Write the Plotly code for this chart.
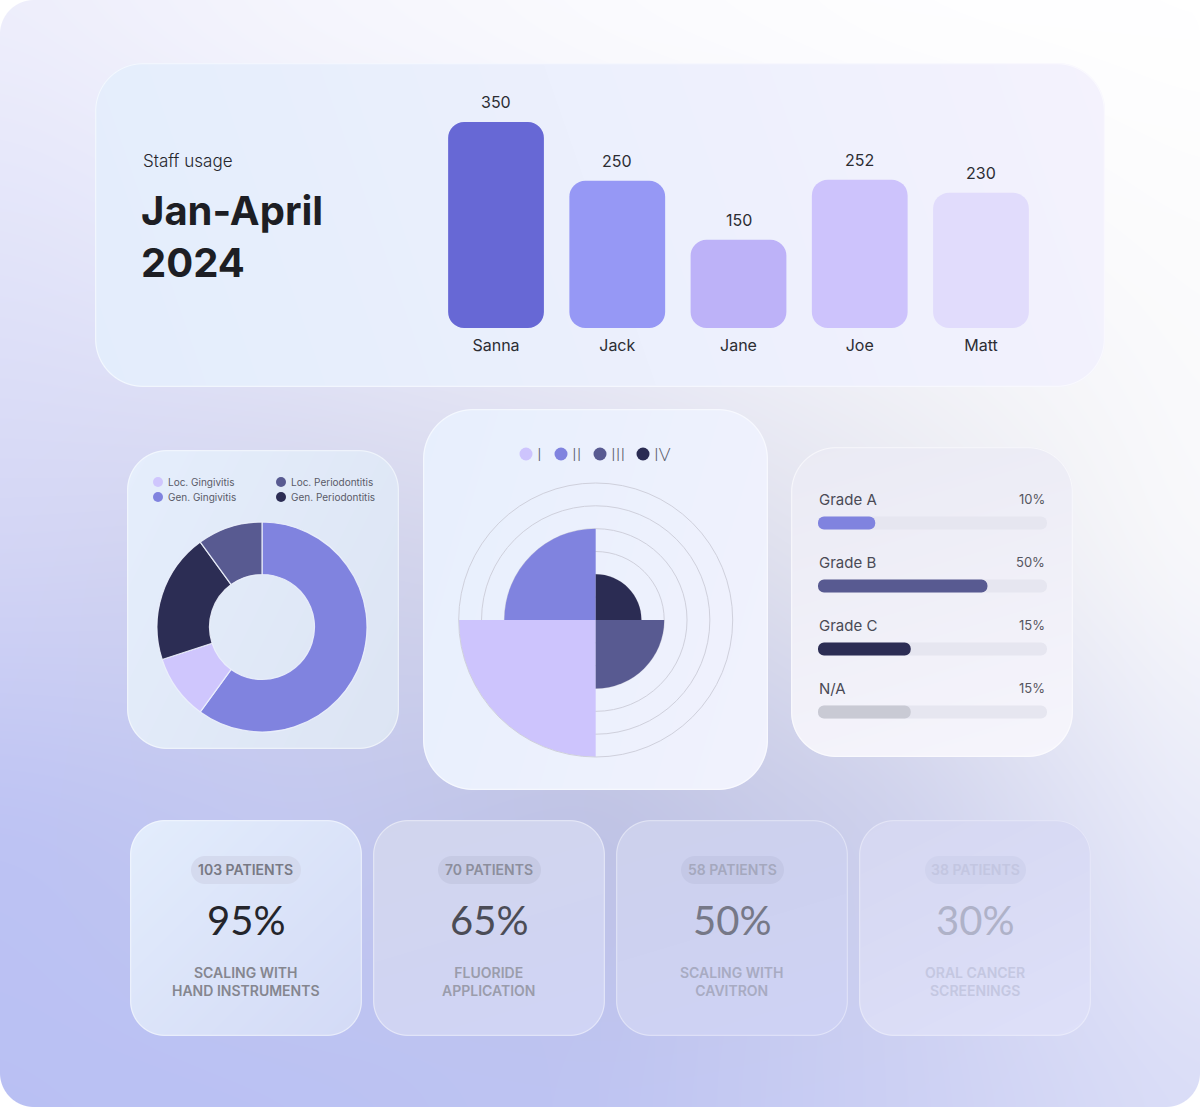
import base64
import struct
import zlib

import numpy as np
import plotly.graph_objects as go

W, H = 1200, 1107

# ---------------------------------------------------------------- data
staff_names = ["Sanna", "Jack", "Jane", "Joe", "Matt"]
staff_usage = [350, 250, 150, 252, 230]
staff_colors = ["#6768d5", "#9698f5", "#bdb2f8", "#cdc3fc", "#e1dcfc"]

donut_labels = ["Gen. Gingivitis", "Loc. Gingivitis", "Gen. Periodontitis", "Loc. Periodontitis"]
donut_values = [60, 10, 20, 10]
donut_colors = ["#8083df", "#cfc6fd", "#2c2d54", "#585a91"]
donut_legend_order = ["Loc. Gingivitis", "Gen. Gingivitis", "Loc. Periodontitis", "Gen. Periodontitis"]

stage_labels = ["I", "II", "III", "IV"]
stage_values = [6, 4, 3, 2]
stage_colors = ["#cdc4fd", "#8083df", "#585a91", "#2b2c53"]
stage_angle_order = ["IV", "III", "I", "II"]

grade_labels = ["Grade A", "Grade B", "Grade C", "N/A"]
grade_pct = [10, 50, 15, 15]          # printed percentages
grade_bar = [25, 74, 40.5, 40.5]      # drawn fill level (of 100)
grade_max = 100
grade_colors = ["#8083df", "#585a91", "#2c2d54", "#c9cad4"]

kpi_patients = [103, 70, 58, 38]
kpi_pct = [95, 65, 50, 30]
kpi_labels = ["SCALING WITH<br>HAND INSTRUMENTS", "FLUORIDE<br>APPLICATION",
              "SCALING WITH<br>CAVITRON", "ORAL CANCER<br>SCREENINGS"]
kpi_colors = [("#787984", "#24252b", "#85868f"),
              ("#8c8e9c", "#4b4c56", "#9a9cab"),
              ("#a5a8be", "#767887", "#a8abc2"),
              ("#c3c6e1", "#afb2c8", "#c4c7e1")]

# ---------------------------------------------------------------- decorative background (image)
Xp = (np.arange(W) + 0.5)[None, :]
Yp = (np.arange(H) + 0.5)[:, None]

gx = np.array([0, 300, 600, 900, 1200], float)
gy = np.array([0, 277, 553, 830, 1107], float)
grid = np.array([
    [(238, 238, 251), (246, 246, 253), (251, 251, 254), (254, 254, 255), (255, 255, 255)],
    [(224, 226, 249), (232, 233, 249), (240, 240, 250), (246, 246, 250), (251, 251, 252)],
    [(211, 213, 245), (208, 210, 236), (214, 215, 234), (230, 231, 240), (249, 249, 251)],
    [(188, 194, 243), (195, 200, 240), (189, 193, 227), (205, 208, 236), (234, 236, 250)],
    [(185, 192, 243), (186, 193, 243), (190, 196, 243), (204, 208, 244), (218, 221, 247)],
], float)
xs = np.arange(W) + 0.5
ys = np.arange(H) + 0.5
ix = np.clip(np.searchsorted(gx, xs) - 1, 0, len(gx) - 2)
iy = np.clip(np.searchsorted(gy, ys) - 1, 0, len(gy) - 2)
fx = ((xs - gx[ix]) / (gx[ix + 1] - gx[ix]))[None, :, None]
fy = ((ys - gy[iy]) / (gy[iy + 1] - gy[iy]))[:, None, None]
G00 = grid[iy[:, None], ix[None, :]]
G01 = grid[iy[:, None], ix[None, :] + 1]
G10 = grid[iy[:, None] + 1, ix[None, :]]
G11 = grid[iy[:, None] + 1, ix[None, :] + 1]
img = G00 * (1 - fx) * (1 - fy) + G01 * fx * (1 - fy) + G10 * (1 - fx) * fy + G11 * fx * fy


def box_blur(a, r, axis):
    pad = [(0, 0)] * a.ndim
    pad[axis] = (r + 1, r)
    p = np.pad(a, pad, mode="edge")
    c = np.cumsum(p, axis=axis)
    n = a.shape[axis]
    hi = np.take(c, np.arange(2 * r + 1, 2 * r + 1 + n), axis=axis)
    lo = np.take(c, np.arange(0, n), axis=axis)
    return (hi - lo) / (2 * r + 1)


for _ in range(2):
    img = box_blur(img, 50, 0)
    img = box_blur(img, 50, 1)


def sdf(x0, y0, x1, y1, r):
    cx, cy = (x0 + x1) / 2, (y0 + y1) / 2
    hx, hy = (x1 - x0) / 2, (y1 - y0) / 2
    qx = np.abs(Xp - cx) - (hx - r)
    qy = np.abs(Yp - cy) - (hy - r)
    return (np.hypot(np.maximum(qx, 0), np.maximum(qy, 0))
            + np.minimum(np.maximum(qx, qy), 0) - r)


# (box, radius, colour start, colour end, gradient direction, border alpha)
cards = [
    ((95, 63, 1105, 387), 48, (227, 237, 252), (244, 242, 253), (1, -0.35), 0.6),
    ((127, 450, 399, 749), 40, (229, 238, 252), (220, 228, 243), (1, 0.5), 0.55),
    ((423, 409, 768, 790), 50, (231, 239, 253), (241, 242, 253), (1, 0.3), 0.6),
    ((791, 447, 1073, 757), 45, (234, 234, 244), (246, 245, 252), (0.3, 1), 0.6),
    ((130, 820, 362, 1036), 35, (227, 237, 252), (211, 218, 246), (1, 1), 0.5),
    ((373, 820, 605, 1036), 35, (209, 213, 237), (208, 212, 245), (0.3, 1), 0.45),
    ((616, 820, 848, 1036), 35, (205, 209, 236), (206, 210, 245), (0.3, 1), 0.4),
    ((859, 820, 1091, 1036), 35, (213, 215, 241), (222, 224, 249), (0.5, 1), 0.35),
    # pills behind the patient counts
    ((191, 856, 301, 884), 14, (212, 218, 238), (212, 218, 238), (1, 0), 0.0),
    ((438, 856, 541, 884), 14, (198, 202, 228), (198, 202, 228), (1, 0), 0.0),
    ((681, 856, 784, 884), 14, (196, 200, 230), (196, 200, 230), (1, 0), 0.0),
    ((925, 856, 1026, 884), 14, (208, 211, 238), (208, 211, 238), (1, 0), 0.0),
]
for (x0, y0, x1, y1), r, c0, c1, (dx, dy), ba in cards:
    d = sdf(x0, y0, x1, y1, r)
    a = np.clip(0.5 - d, 0, 1)[..., None]
    L = np.hypot(dx, dy)
    ux, uy = dx / L, dy / L
    corners = [(x0, y0), (x1, y0), (x0, y1), (x1, y1)]
    proj = [cx * ux + cy * uy for cx, cy in corners]
    pmin, pmax = min(proj), max(proj)
    t = np.clip(((Xp * ux + Yp * uy) - pmin) / (pmax - pmin), 0, 1)[..., None]
    col = np.array(c0, float) * (1 - t) + np.array(c1, float) * t
    img = img * (1 - a) + col * a
    if ba > 0:
        b = (np.clip(1 - np.abs(d + 0.7), 0, 1) * ba)[..., None]
        img = img * (1 - b) + 255.0 * b

# rounded outer frame
dout = sdf(0, 0, W, H, 34)
ao = np.clip(dout + 0.5, 0, 1)[..., None]
img = img * (1 - ao) + 255.0 * ao

img8 = np.clip(np.rint(img), 0, 255).astype(np.uint8)
i16 = img8.astype(np.int16)
filt = np.empty_like(img8)
filt[0] = img8[0]
filt[1:] = ((i16[1:] - i16[:-1]) % 256).astype(np.uint8)
raw = np.concatenate([np.full((H, 1), 2, np.uint8), filt.reshape(H, W * 3)], axis=1).tobytes()


def chunk(tag, data):
    return struct.pack(">I", len(data)) + tag + data + struct.pack(">I", zlib.crc32(tag + data) & 0xFFFFFFFF)


png = (b"\x89PNG\r\n\x1a\n" + chunk(b"IHDR", struct.pack(">IIBBBBB", W, H, 8, 2, 0, 0, 0))
       + chunk(b"IDAT", zlib.compress(raw, 9)) + chunk(b"IEND", b""))
bg_uri = "data:image/png;base64," + base64.b64encode(png).decode()

# ---------------------------------------------------------------- figure
fig = go.Figure()

# staff usage bars (explicit base so that both ends are rounded)
fig.add_trace(go.Bar(x=staff_names, y=staff_usage, base=[0] * len(staff_usage), width=0.79,
                     marker=dict(color=staff_colors, cornerradius=16, line=dict(width=0)),
                     hovertemplate="%{x}: %{y}<extra></extra>",
                     xaxis="x", yaxis="y", showlegend=False))

# grade progress bars: tracks then fills
track = [grade_max] * len(grade_labels)
for vals, colors in [(track, ["#e6e6f0"] * len(grade_labels)), (grade_bar, grade_colors)]:
    fig.add_trace(go.Bar(y=grade_labels, x=vals, base=[0] * len(vals), orientation="h", width=0.206,
                         marker=dict(color=colors, cornerradius="50%", line=dict(width=0)),
                         hoverinfo="skip", xaxis="x2", yaxis="y2", showlegend=False))

# donut
fig.add_trace(go.Pie(labels=donut_labels, values=donut_values, hole=0.5, sort=False,
                     direction="clockwise", rotation=0, textinfo="none", showlegend=False,
                     marker=dict(colors=donut_colors, line=dict(color="rgba(236,241,252,0.9)", width=1.2)),
                     domain=dict(x=[157 / W, 367 / W], y=[1 - 732 / H, 1 - 522 / H])))

# polar quadrant chart
fig.add_trace(go.Barpolar(r=stage_values, theta=stage_labels,
                          marker=dict(color=stage_colors, line=dict(width=0)),
                          subplot="polar", showlegend=False))

# custom legends (overlay pixel axis)
donut_color_of = dict(zip(donut_labels, donut_colors))
donut_leg_pos = [(158, 482), (158, 497), (281, 482), (281, 497)]
stage_leg_pos = [(526, 454), (561, 454), (600, 454), (643, 454)]
fig.add_trace(go.Scatter(x=[p[0] for p in donut_leg_pos], y=[p[1] for p in donut_leg_pos], mode="markers",
                         marker=dict(size=10, color=[donut_color_of[k] for k in donut_legend_order]),
                         hoverinfo="skip", xaxis="x3", yaxis="y3", showlegend=False))
fig.add_trace(go.Scatter(x=[p[0] for p in stage_leg_pos], y=[p[1] for p in stage_leg_pos], mode="markers",
                         marker=dict(size=13, color=stage_colors),
                         hoverinfo="skip", xaxis="x3", yaxis="y3", showlegend=False))

annotations = []


def ann(px, py, text, size, color, family="Inter", weight=400, xanchor="center", yanchor="middle", align="center"):
    annotations.append(dict(x=px / W, y=1 - py / H, xref="paper", yref="paper", text=text, showarrow=False,
                            xanchor=xanchor, yanchor=yanchor, align=align,
                            font=dict(family=family, size=size, color=color, weight=weight)))


ann(141, 161, "Staff usage", 17, "#25262c", weight=300, xanchor="left")
ann(139, 236, "Jan-April<br>2024", 40, "#1d1e24", weight=700, xanchor="left", align="left")

# values above the staff bars
for i, val in enumerate(staff_usage):
    annotations.append(dict(x=i, y=val, xref="x", yref="y", text=str(val), showarrow=False,
                            yanchor="bottom", yshift=8, font=dict(family="Inter", size=16, color="#2c2d33")))

# grade labels
for i, (lab, pct) in enumerate(zip(grade_labels, grade_pct)):
    annotations.append(dict(x=0, y=i, xref="x2", yref="y2", text=lab, showarrow=False, xanchor="left",
                            yshift=24, xshift=-1, font=dict(family="Inter", size=15, color="#4a4a55")))
    annotations.append(dict(x=grade_max, y=i, xref="x2", yref="y2", text=f"{pct}%", showarrow=False,
                            xanchor="right", yshift=24, font=dict(family="Inter", size=13, color="#55565f")))

# legend texts
for (px, py), lab in zip(donut_leg_pos, donut_legend_order):
    annotations.append(dict(x=px + 8, y=py, xref="x3", yref="y3", text=lab, showarrow=False, xanchor="left",
                            font=dict(family="Inter", size=10, color="#5a5b68")))
for (px, py), lab in zip(stage_leg_pos, stage_labels):
    annotations.append(dict(x=px + 9, y=py, xref="x3", yref="y3", text=lab, showarrow=False, xanchor="left",
                            font=dict(family="Lato", size=18, color="#5a5b68", weight=300)))

# KPI cards
kpi_cx = [246, 489, 732, 975]
for cx, n, pct, lab, (c_pill, c_pct, c_lab) in zip(kpi_cx, kpi_patients, kpi_pct, kpi_labels, kpi_colors):
    ann(cx, 870, f"{n} PATIENTS", 14, c_pill, weight=600)
    ann(cx, 920, f"{pct}%", 40, c_pct, family="Lato", weight=400)
    ann(cx, 981, lab, 14, c_lab, weight=600)

fig.update_layout(
    width=W, height=H, margin=dict(l=0, r=0, t=0, b=0),
    paper_bgcolor="#ffffff", plot_bgcolor="rgba(0,0,0,0)",
    barmode="overlay", showlegend=False,
    images=[dict(source=bg_uri, xref="paper", yref="paper", x=0, y=1, sizex=1, sizey=1,
                 xanchor="left", yanchor="top", sizing="stretch", layer="below")],
    xaxis=dict(domain=[435.4 / W, 1041.6 / W], range=[-0.5, 4.5], showgrid=False, zeroline=False,
               showline=False, ticks="", ticklabelstandoff=6,
               tickfont=dict(family="Inter", size=16, color="#2c2d33"), fixedrange=True),
    yaxis=dict(domain=[1 - 328 / H, 1 - 90 / H], range=[0, max(staff_usage) * 238 / 206], visible=False,
               fixedrange=True),
    xaxis2=dict(domain=[818 / W, 1047 / W], range=[0, grade_max], visible=False, fixedrange=True),
    yaxis2=dict(domain=[1 - 743.5 / H, 1 - 491.5 / H], range=[len(grade_labels) - 0.5, -0.5],
                visible=False, fixedrange=True),
    xaxis3=dict(domain=[0, 1], range=[0, W], visible=False, fixedrange=True),
    yaxis3=dict(domain=[0, 1], range=[H, 0], visible=False, fixedrange=True),
    polar=dict(domain=dict(x=[458.7 / W, 732.7 / W], y=[1 - 757 / H, 1 - 483 / H]),
               bgcolor="rgba(0,0,0,0)", bargap=0,
               radialaxis=dict(range=[0, max(stage_values)], dtick=1, tick0=0, showticklabels=False, ticks="",
                               showline=False, gridcolor="#cfd0dc", gridwidth=1),
               angularaxis=dict(type="category", categoryorder="array", categoryarray=stage_angle_order,
                                rotation=45, direction="clockwise", showticklabels=False, ticks="",
                                showgrid=False, showline=True, linecolor="#cfd0dc", linewidth=1)),
    annotations=annotations,
    hoverlabel=dict(font=dict(family="Inter")),
)

fig.write_html("out.html")
